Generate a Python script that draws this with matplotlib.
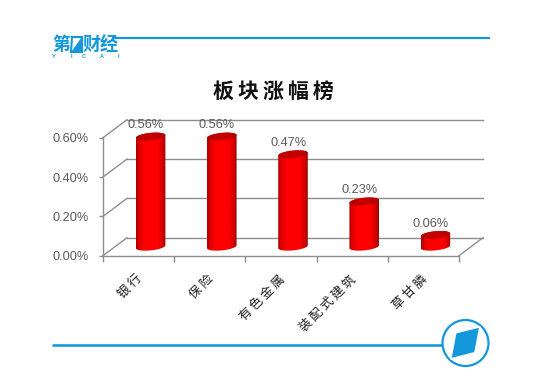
import numpy as np
import matplotlib
matplotlib.use('Agg')
import matplotlib.pyplot as plt
from matplotlib.colors import LinearSegmentedColormap
from matplotlib.patches import Circle, Polygon, PathPatch
from matplotlib.path import Path

categories = ['银行', '保险', '有色金属', '装配式建筑', '草甘膦']
values = [0.56, 0.56, 0.47, 0.23, 0.06]
value_labels = ['0.56%', '0.56%', '0.47%', '0.23%', '0.06%']
y_ticks = [0.0, 0.2, 0.4, 0.6]
y_tick_labels = ['0.00%', '0.20%', '0.40%', '0.60%']
title = '板块涨幅榜'

W, H = 551, 382
BLUE = '#1398DC'
GRID = '#8E8E8E'
TEXT = '#5A5A5A'
CJK = ['Noto Sans CJK SC', 'DejaVu Sans']

fig = plt.figure(figsize=(W / 100, H / 100), dpi=100)

# overlay in pixel units for the page furniture
bg = fig.add_axes([0, 0, 1, 1])
bg.set_xlim(0, W)
bg.set_ylim(H, 0)
bg.axis('off')

# chart axes, front face of the 3d box
left, right, top, bottom = 103, 459, 137.7, 255.7
ax = fig.add_axes([left / W, 1 - bottom / H, (right - left) / W, (bottom - top) / H])
ax.set_xlim(0, len(categories))
ax.set_ylim(0, 0.6)
ax.patch.set_alpha(0)

# depth of the box in data units
dep_x = 24 / (right - left) * len(categories)
dep_y = 18 / (bottom - top) * 0.6

for t in y_ticks:
    ax.plot([dep_x, len(categories) + dep_x], [t + dep_y, t + dep_y], color=GRID, lw=1, clip_on=False, zorder=1)
    ax.plot([0, dep_x], [t, t + dep_y], color=GRID, lw=1, clip_on=False, zorder=1)
ax.plot([len(categories), len(categories) + dep_x], [0, dep_y], color=GRID, lw=1, clip_on=False, zorder=1)

for s in ['top', 'right']:
    ax.spines[s].set_visible(False)
for s in ['left', 'bottom']:
    ax.spines[s].set_color(GRID)
    ax.spines[s].set_linewidth(1)
ax.set_yticks(y_ticks)
ax.set_yticklabels(y_tick_labels, fontfamily='Liberation Sans', fontsize=9.2, color=TEXT)
ax.set_xticks(range(len(categories) + 1))
ax.set_xticklabels([])
ax.tick_params(axis='y', length=3, width=1, color=GRID, pad=7)
ax.tick_params(axis='x', length=4, width=1, color=GRID)

# cylinders
body_cmap = LinearSegmentedColormap.from_list('body', [(0, '#A80000'), (0.12, '#E00000'), (0.3, '#FF0000'), (0.72, '#FF0000'), (0.9, '#D00000'), (1, '#990000')])
top_cmap = LinearSegmentedColormap.from_list('top', [(0, '#B00000'), (0.5, '#C80000'), (1, '#B00000')])
grad = np.linspace(0, 1, 256).reshape(1, -1)
bar_w = 0.415
k = 0.22
skew = k * dep_x
rad = np.sqrt((bar_w / 2) ** 2 - skew ** 2)
t0 = np.arctan2(skew, rad)  # where the sheared ellipse is widest


def ellipse(cx, cy, t):
    return np.column_stack([cx + rad * np.cos(t) + skew * np.sin(t), cy + k * dep_y * np.sin(t)])


for i, v in enumerate(values):
    cx = i + 0.5 + dep_x / 2
    y0 = dep_y / 2
    y1 = y0 + v
    low = ellipse(cx, y0, np.linspace(t0 + np.pi, t0 + 2 * np.pi, 60))
    up = ellipse(cx, y1, np.linspace(t0, t0 + np.pi, 60))
    ring = ellipse(cx, y1, np.linspace(0, 2 * np.pi, 90))
    ext = (cx - bar_w / 2, cx + bar_w / 2, y0 - k * dep_y, y1 + k * dep_y)
    im = ax.imshow(grad, cmap=body_cmap, extent=ext, aspect='auto', zorder=3)
    body = PathPatch(Path(np.vstack([low, up, low[:1]]), closed=True), transform=ax.transData, fc='none', ec='none', clip_on=False)
    ax.add_patch(body)
    im.set_clip_path(body)
    im.set_clip_box(fig.bbox)
    im2 = ax.imshow(grad, cmap=top_cmap, extent=ext, aspect='auto', zorder=4)
    cap = PathPatch(Path(np.vstack([ring, ring[:1]]), closed=True), transform=ax.transData, fc='none', ec='none', clip_on=False)
    ax.add_patch(cap)
    im2.set_clip_path(cap)
    im2.set_clip_box(fig.bbox)
    ax.annotate(value_labels[i], (cx, y1), xytext=(-3.5, 8), textcoords='offset points', ha='center', va='center',
                fontfamily='Liberation Sans', fontsize=9.2, color=TEXT, annotation_clip=False, zorder=5)
    ax.annotate('\u2009'.join(categories[i]), (i + 0.5, 0), xytext=(-2, -12), textcoords='offset points', ha='right', va='top',
                rotation=45, rotation_mode='anchor', fontfamily=CJK, fontsize=9.2, color='#222222', annotation_clip=False)

ax.set_xlim(0, len(categories))
ax.set_ylim(0, 0.6)

# title
bg.text(273, 91, '\u2009'.join(title), ha='center', va='center', fontfamily=CJK, fontsize=15, fontweight='bold', color='#111111')

# logo and rules
bg.plot([112, 490], [38.3, 38.3], color=BLUE, lw=1.6, solid_capstyle='butt')
bg.plot([52, 442], [344.5, 344.5], color=BLUE, lw=1.9, solid_capstyle='butt')
bg.text(61, 45, '第', ha='center', va='center', fontfamily=CJK, fontsize=13, fontweight='bold', color=BLUE)
bg.text(101, 45, '财经', ha='center', va='center', fontfamily=CJK, fontsize=13, fontweight='bold', color=BLUE)
bg.add_patch(Polygon([[72, 37], [82, 37], [82, 52], [71, 52]], fc='none', ec=BLUE, lw=1.5))
bg.add_patch(Polygon([[72, 51], [81, 38], [81, 51]], fc=BLUE, ec='none'))
for x, ch in zip([54, 71, 84, 102, 118], 'YICAI'):
    bg.text(x, 57, ch, ha='center', va='center', fontfamily='Liberation Sans', fontsize=4, fontweight='bold', color=BLUE)

bg.add_patch(Circle((465.5, 343), 23, fc='white', ec=BLUE, lw=1.6))
bg.add_patch(Polygon([[455.7, 332.7], [480, 326.7], [475, 352.7], [450.7, 359]], fc=BLUE, ec='white', lw=1.2))

fig.savefig('out.png', dpi=100)
